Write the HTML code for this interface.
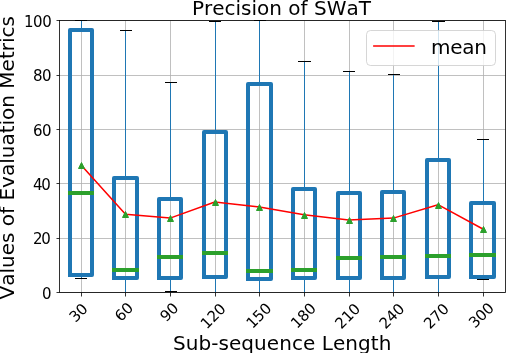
<!DOCTYPE html>
<html lang="en"><head><meta charset="utf-8"><title>Precision of SWaT</title>
<style>html,body{margin:0;padding:0;background:#fff}svg{display:block}text{font-family:"DejaVu Sans","Liberation Sans",sans-serif;fill:#000;font-kerning:none}</style></head><body>
<svg width="508" height="353" viewBox="0 0 508 353">
<rect width="508" height="353" fill="#fff"/>
<path d="M81.5 20.5V292.5M125.5 20.5V292.5M170.5 20.5V292.5M215.5 20.5V292.5M259.5 20.5V292.5M304.5 20.5V292.5M349.5 20.5V292.5M393.5 20.5V292.5M438.5 20.5V292.5M483.5 20.5V292.5M59.5 20.5H505.5M59.5 75.5H505.5M59.5 129.5H505.5M59.5 183.5H505.5M59.5 238.5H505.5M59.5 292.5H505.5" stroke="#b0b0b0" stroke-width="0.8" fill="none"/>
<path d="M81.5 292.5V296.5M125.5 292.5V296.5M170.5 292.5V296.5M215.5 292.5V296.5M259.5 292.5V296.5M304.5 292.5V296.5M349.5 292.5V296.5M393.5 292.5V296.5M438.5 292.5V296.5M483.5 292.5V296.5M56.5 20.5H59.5M56.5 75.5H59.5M56.5 129.5H59.5M56.5 183.5H59.5M56.5 238.5H59.5M56.5 292.5H59.5" stroke="#000" stroke-width="0.8" fill="none"/>
<g font-size="15">
<text transform="translate(75.49 323.02) rotate(-45)" letter-spacing="-0.2">30</text>
<text transform="translate(120.94 322.22) rotate(-45)" letter-spacing="-0.2">60</text>
<text transform="translate(166.19 322.42) rotate(-45)" letter-spacing="-0.2">90</text>
<text transform="translate(206.84 329.73) rotate(-45)" letter-spacing="-0.2">120</text>
<text transform="translate(252.43 329.24) rotate(-45)" letter-spacing="-0.2">150</text>
<text transform="translate(297.08 329.24) rotate(-45)" letter-spacing="-0.2">180</text>
<text transform="translate(341.29 329.73) rotate(-45)" letter-spacing="-0.2">210</text>
<text transform="translate(385.44 329.73) rotate(-45)" letter-spacing="-0.2">240</text>
<text transform="translate(430.09 329.83) rotate(-45)" letter-spacing="-0.2">270</text>
<text transform="translate(474.98 328.84) rotate(-45)" letter-spacing="-0.2">300</text>
<text x="42.00" y="299.00" letter-spacing="0">0</text>
<text x="32.90" y="244.00" letter-spacing="-1.2">20</text>
<text x="32.90" y="190.00" letter-spacing="-1.2">40</text>
<text x="32.90" y="136.00" letter-spacing="-0.4">60</text>
<text x="32.90" y="81.00" letter-spacing="-0.4">80</text>
<text x="23.90" y="27.00" letter-spacing="-0.4">100</text>
</g>
<polyline points="70,275 92,275 92,30 70,30 70,275" fill="none" stroke="#1f77b4" stroke-width="4" stroke-linejoin="round" stroke-linecap="square"/>
<path d="M81.5 275V278.5M81.5 30V20.5" stroke="#1f77b4" stroke-width="1" fill="none"/>
<path d="M75 20.5H87M75 278.5H87" stroke="#000" stroke-width="1" fill="none"/>
<path d="M68 193H94" stroke="#2ca02c" stroke-width="4" fill="none"/>
<polyline points="114,278 137,278 137,178 114,178 114,278" fill="none" stroke="#1f77b4" stroke-width="4" stroke-linejoin="round" stroke-linecap="square"/>
<path d="M125.5 278V292.0M125.5 178V30.5" stroke="#1f77b4" stroke-width="1" fill="none"/>
<path d="M120 30.5H132" stroke="#000" stroke-width="1" fill="none"/>
<path d="M112 270H139" stroke="#2ca02c" stroke-width="4" fill="none"/>
<polyline points="159,278 181,278 181,199 159,199 159,278" fill="none" stroke="#1f77b4" stroke-width="4" stroke-linejoin="round" stroke-linecap="square"/>
<path d="M170.5 278V291.5M170.5 199V82.5" stroke="#1f77b4" stroke-width="1" fill="none"/>
<path d="M165 82.5H177M165 291.5H177" stroke="#000" stroke-width="1" fill="none"/>
<path d="M157 257H183" stroke="#2ca02c" stroke-width="4" fill="none"/>
<polyline points="204,277 226,277 226,132 204,132 204,277" fill="none" stroke="#1f77b4" stroke-width="4" stroke-linejoin="round" stroke-linecap="square"/>
<path d="M215.5 277V292.0M215.5 132V21.5" stroke="#1f77b4" stroke-width="1" fill="none"/>
<path d="M209 21.5H221" stroke="#000" stroke-width="1" fill="none"/>
<path d="M202 253H228" stroke="#2ca02c" stroke-width="4" fill="none"/>
<polyline points="248,279 271,279 271,84 248,84 248,279" fill="none" stroke="#1f77b4" stroke-width="4" stroke-linejoin="round" stroke-linecap="square"/>
<path d="M259.5 279V292.0M259.5 84V20.5" stroke="#1f77b4" stroke-width="1" fill="none"/>
<path d="M254 20.5H266" stroke="#000" stroke-width="1" fill="none"/>
<path d="M246 271H273" stroke="#2ca02c" stroke-width="4" fill="none"/>
<polyline points="293,278 315,278 315,189 293,189 293,278" fill="none" stroke="#1f77b4" stroke-width="4" stroke-linejoin="round" stroke-linecap="square"/>
<path d="M304.5 278V292.0M304.5 189V61.5" stroke="#1f77b4" stroke-width="1" fill="none"/>
<path d="M298 61.5H311" stroke="#000" stroke-width="1" fill="none"/>
<path d="M291 270H317" stroke="#2ca02c" stroke-width="4" fill="none"/>
<polyline points="338,278 360,278 360,193 338,193 338,278" fill="none" stroke="#1f77b4" stroke-width="4" stroke-linejoin="round" stroke-linecap="square"/>
<path d="M349.5 278V292.0M349.5 193V71.5" stroke="#1f77b4" stroke-width="1" fill="none"/>
<path d="M343 71.5H355" stroke="#000" stroke-width="1" fill="none"/>
<path d="M336 258H362" stroke="#2ca02c" stroke-width="4" fill="none"/>
<polyline points="382,278 404,278 404,192 382,192 382,278" fill="none" stroke="#1f77b4" stroke-width="4" stroke-linejoin="round" stroke-linecap="square"/>
<path d="M393.5 278V292.0M393.5 192V74.5" stroke="#1f77b4" stroke-width="1" fill="none"/>
<path d="M388 74.5H400" stroke="#000" stroke-width="1" fill="none"/>
<path d="M380 257H406" stroke="#2ca02c" stroke-width="4" fill="none"/>
<polyline points="427,277 449,277 449,160 427,160 427,277" fill="none" stroke="#1f77b4" stroke-width="4" stroke-linejoin="round" stroke-linecap="square"/>
<path d="M438.5 277V292.0M438.5 160V21.5" stroke="#1f77b4" stroke-width="1" fill="none"/>
<path d="M432 21.5H445" stroke="#000" stroke-width="1" fill="none"/>
<path d="M425 256H451" stroke="#2ca02c" stroke-width="4" fill="none"/>
<polyline points="471,277 494,277 494,203 471,203 471,277" fill="none" stroke="#1f77b4" stroke-width="4" stroke-linejoin="round" stroke-linecap="square"/>
<path d="M483.5 277V279.5M483.5 203V139.5" stroke="#1f77b4" stroke-width="1" fill="none"/>
<path d="M477 139.5H489M477 279.5H489" stroke="#000" stroke-width="1" fill="none"/>
<path d="M469 255H496" stroke="#2ca02c" stroke-width="4" fill="none"/>
<polyline points="80.83,164.85 125.47,214.20 170.12,218.10 214.77,202.00 259.43,207.00 304.07,214.80 348.72,219.90 393.38,218.10 438.02,204.70 482.67,228.90" fill="none" stroke="#f00" stroke-width="1.5" stroke-linejoin="round" stroke-linecap="square"/>
<path d="M81.50 162.50L78.50 168.50L84.50 168.50Z" fill="#2ca02c" stroke="#2ca02c" stroke-width="1" stroke-linejoin="miter"/>
<path d="M125.50 211.50L122.50 217.50L128.50 217.50Z" fill="#2ca02c" stroke="#2ca02c" stroke-width="1" stroke-linejoin="miter"/>
<path d="M170.50 215.50L167.50 221.50L173.50 221.50Z" fill="#2ca02c" stroke="#2ca02c" stroke-width="1" stroke-linejoin="miter"/>
<path d="M215.50 199.50L212.50 205.50L218.50 205.50Z" fill="#2ca02c" stroke="#2ca02c" stroke-width="1" stroke-linejoin="miter"/>
<path d="M259.50 204.50L256.50 210.50L262.50 210.50Z" fill="#2ca02c" stroke="#2ca02c" stroke-width="1" stroke-linejoin="miter"/>
<path d="M304.50 212.50L301.50 218.50L307.50 218.50Z" fill="#2ca02c" stroke="#2ca02c" stroke-width="1" stroke-linejoin="miter"/>
<path d="M349.50 217.50L346.50 223.50L352.50 223.50Z" fill="#2ca02c" stroke="#2ca02c" stroke-width="1" stroke-linejoin="miter"/>
<path d="M393.50 215.50L390.50 221.50L396.50 221.50Z" fill="#2ca02c" stroke="#2ca02c" stroke-width="1" stroke-linejoin="miter"/>
<path d="M438.50 202.50L435.50 208.50L441.50 208.50Z" fill="#2ca02c" stroke="#2ca02c" stroke-width="1" stroke-linejoin="miter"/>
<path d="M483.50 226.50L480.50 232.50L486.50 232.50Z" fill="#2ca02c" stroke="#2ca02c" stroke-width="1" stroke-linejoin="miter"/>
<rect x="59.5" y="20.5" width="446" height="272" fill="none" stroke="#000" stroke-width="0.8"/>
<text x="191.96" y="15" font-size="20">Precision of SWaT</text>
<text x="173" y="350" font-size="20" letter-spacing="0.055">Sub-sequence Length</text>
<text transform="translate(14 299.45) rotate(-90)" font-size="20">Values of Evaluation Metrics</text>
<rect x="366.5" y="30.5" width="129" height="35" rx="4" ry="4" fill="#fff" fill-opacity="0.8" stroke="#ccc" stroke-opacity="0.8" stroke-width="1"/>
<path d="M373.875 46H413.875" stroke="#f00" stroke-width="1.5" stroke-linecap="square" fill="none"/>
<text x="431.1" y="54" font-size="20" letter-spacing="-0.27">mean</text>
</svg></body></html>
